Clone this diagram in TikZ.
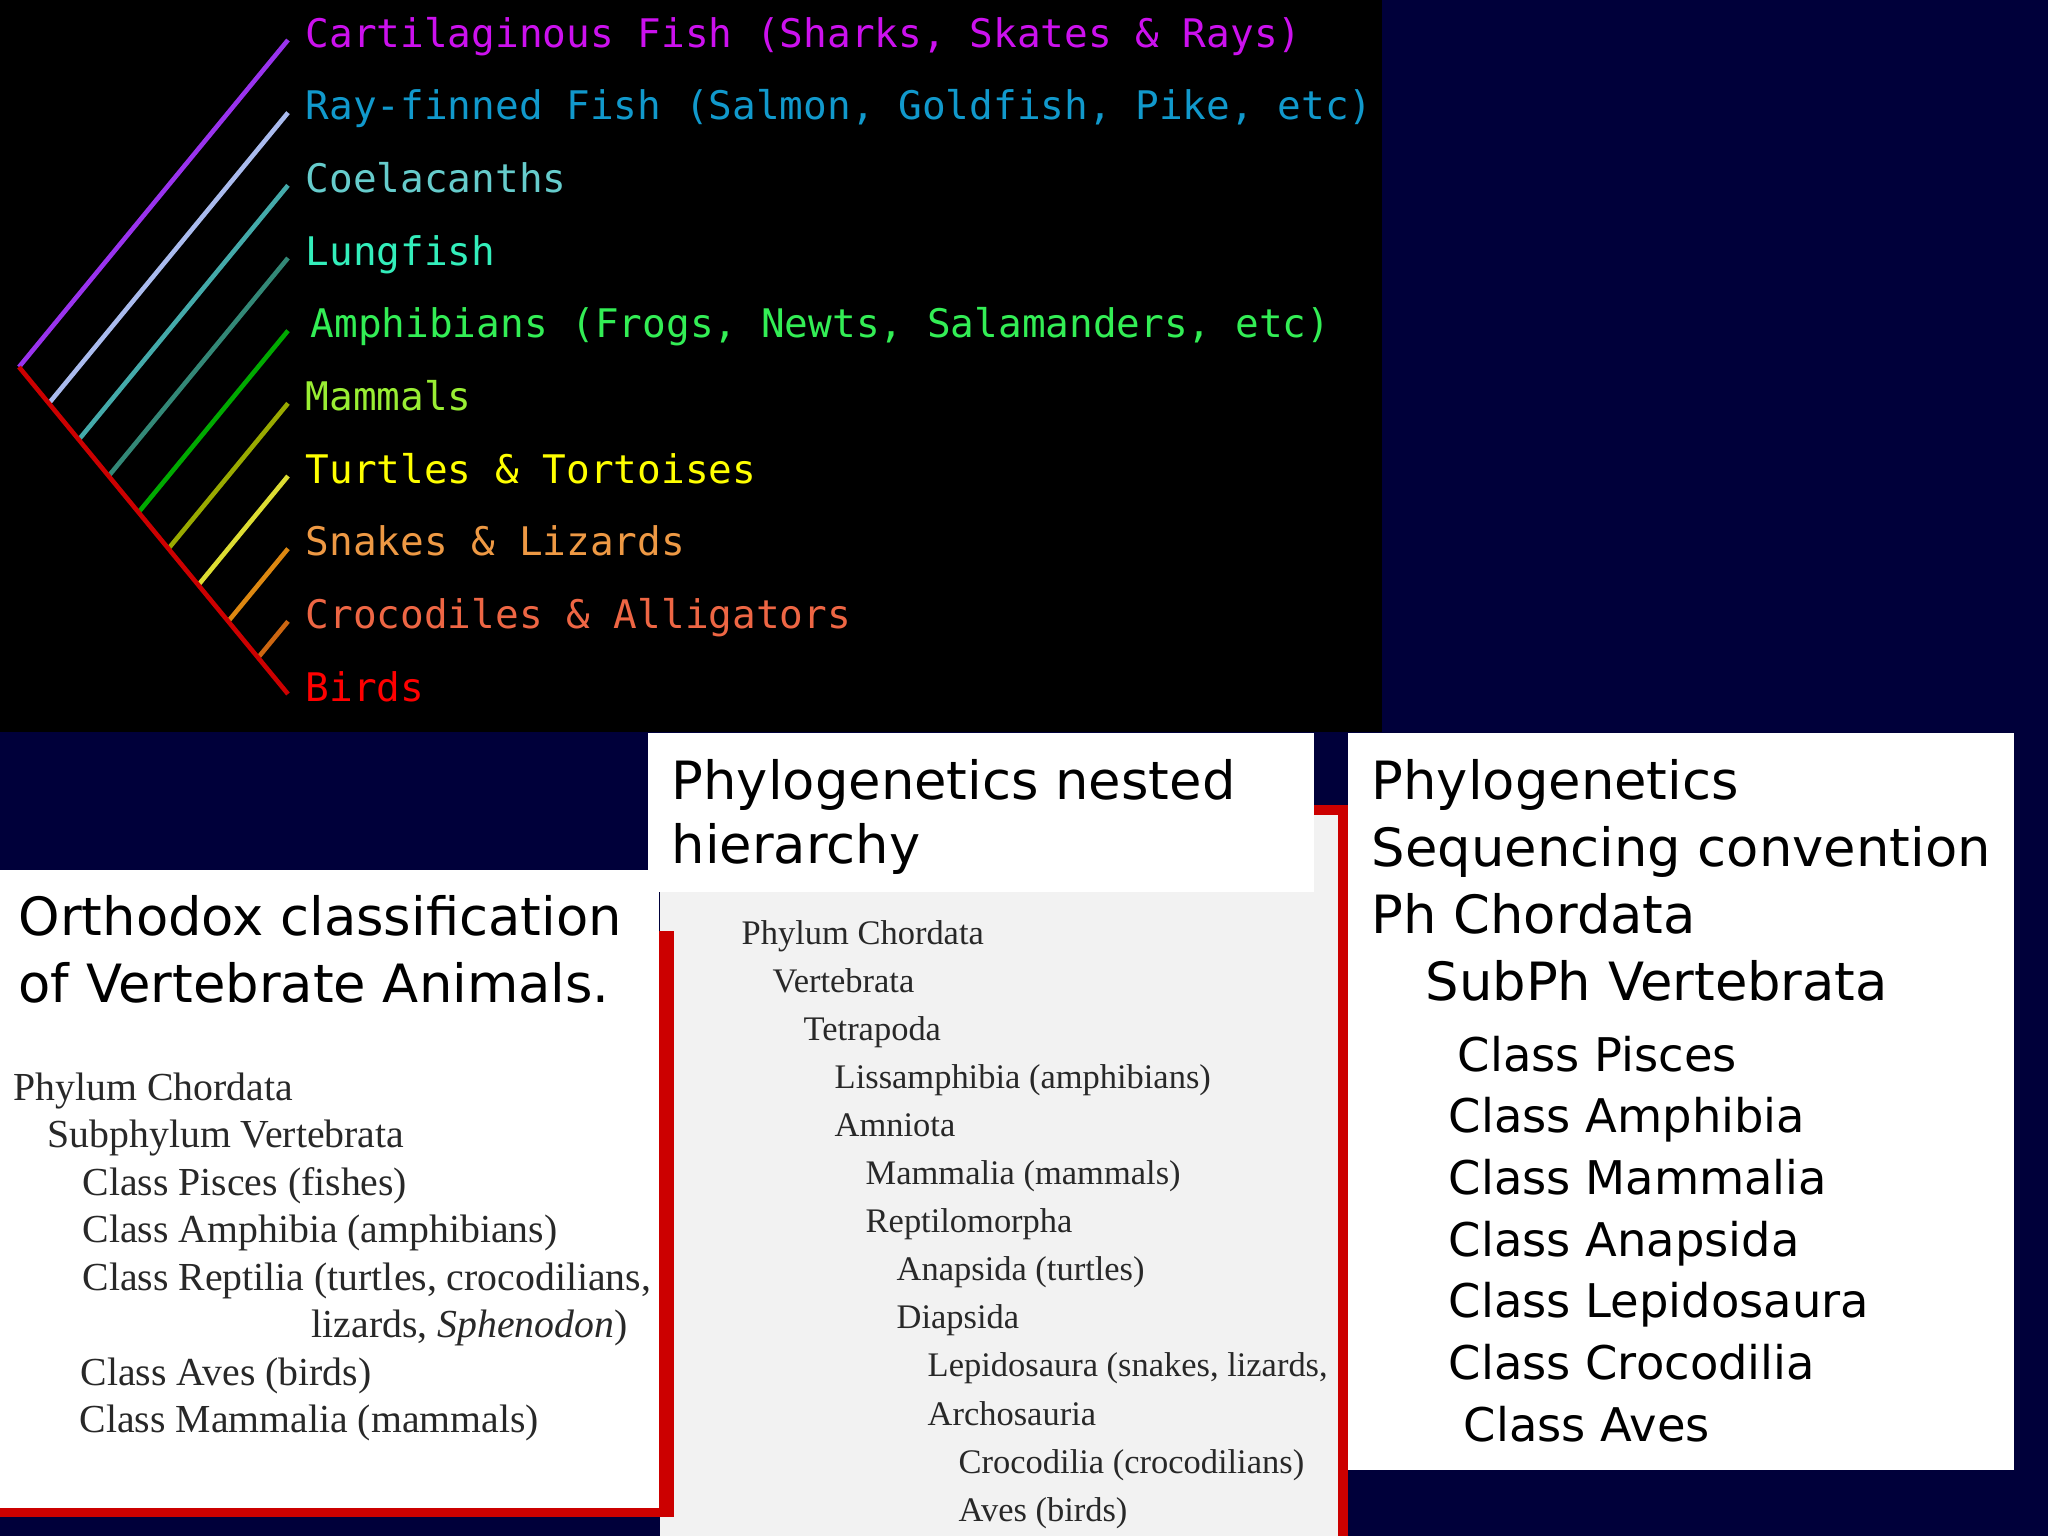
\documentclass[tikz,border=0pt]{standalone}
\usepackage{fontspec}
\newfontfamily\pixfont{DejaVu Sans Mono}
\newfontfamily\slidefont{DejaVu Sans}
\newfontfamily\scanfont{Liberation Serif}
\definecolor{navy}{RGB}{0,0,58}
\definecolor{framered}{RGB}{204,0,0}
\definecolor{scangray}{RGB}{242,242,242}
\definecolor{inkgray}{RGB}{40,40,40}
\definecolor{lab0}{RGB}{204,17,238}
\definecolor{lab1}{RGB}{17,153,204}
\definecolor{lab2}{RGB}{102,204,204}
\definecolor{lab3}{RGB}{51,238,187}
\definecolor{lab4}{RGB}{51,238,85}
\definecolor{lab5}{RGB}{153,238,51}
\definecolor{lab6}{RGB}{255,255,0}
\definecolor{lab7}{RGB}{238,153,68}
\definecolor{lab8}{RGB}{238,102,68}
\definecolor{lab9}{RGB}{255,0,0}
\definecolor{br0}{RGB}{153,51,238}
\definecolor{br1}{RGB}{170,187,238}
\definecolor{br2}{RGB}{68,170,170}
\definecolor{br3}{RGB}{51,136,119}
\definecolor{br4}{RGB}{0,170,0}
\definecolor{br5}{RGB}{153,170,0}
\definecolor{br6}{RGB}{221,221,51}
\definecolor{br7}{RGB}{221,136,17}
\definecolor{br8}{RGB}{204,102,17}
\begin{document}
\begin{tikzpicture}[x=0.01cm,y=-0.01cm]
      \tikzstyle{clade label}=[anchor=base west,inner sep=0,font=\pixfont\fontsize{11.2}{12}\selectfont]
      \tikzstyle{branch}=[line width=1.3pt]
      \tikzstyle{slide head}=[anchor=base west,inner sep=0,font=\slidefont\fontsize{15}{18}\selectfont]
      \tikzstyle{slide line}=[anchor=base west,inner sep=0,font=\slidefont\fontsize{13.2}{16}\selectfont]
      \tikzstyle{book line}=[anchor=base west,inner sep=0,text=inkgray,font=\scanfont\fontsize{11.3}{13}\selectfont]
      \tikzstyle{book small}=[anchor=base west,inner sep=0,text=inkgray,font=\scanfont\fontsize{9.8}{12}\selectfont]

      \useasboundingbox (0,0) rectangle (2048,1536);
      \fill[navy] (0,0) rectangle (2048,1536);
      \fill[black] (0,0) rectangle (1382,732);

      % cladogram
      \coordinate (r) at (19,367);
      \foreach \i in {0,...,9}
          \coordinate (t\i) at (288,{40+72.67*\i});
      \foreach \i in {1,...,8}
          \coordinate (j\i) at ({19+29.89*\i},{367+36.33*\i});
      \draw[branch,br0] (r) -- (t0);
      \foreach \i in {1,...,8}
          \draw[branch,color=br\i] (j\i) -- (t\i);
      \draw[branch,framered] (r) -- (t9);

      \foreach \i/\x/\txt in {0/305/{Cartilaginous Fish (Sharks, Skates \& Rays)},
          1/305/{Ray-finned Fish (Salmon, Goldfish, Pike, etc)},
          2/305/{Coelacanths}, 3/305/{Lungfish},
          4/310/{Amphibians (Frogs, Newts, Salamanders, etc)},
          5/305/{Mammals}, 6/305/{Turtles \& Tortoises},
          7/305/{Snakes \& Lizards}, 8/305/{Crocodiles \& Alligators},
          9/305/{Birds}}
          \node[clade label,text=lab\i] (c\i) at (\x,{47+72.67*\i}) {\txt};

      % panels
      \fill[framered] (660,805) rectangle (1348,1536);
      \fill[scangray] (660,815) rectangle (1338,1536);
      \fill[white] (648,733) rectangle (1314,892);
      \fill[framered] (0,931) rectangle (674,1517);
      \fill[white] (0,870) rectangle (659,1508);
      \fill[white] (1348,733) rectangle (2014,1470);

      \node[slide head] (otitle1) at (18,935) {Orthodox classification};
      \node[slide head] (otitle2) at (18,1002) {of Vertebrate Animals.};
      \foreach \x/\txt [count=\k from 0] in {13/{Phylum Chordata},
          47/{Subphylum Vertebrata}, 82/{Class Pisces (fishes)},
          82/{Class Amphibia (amphibians)},
          82/{Class Reptilia (turtles, crocodilians,},
          311/{lizards, \textit{Sphenodon})},
          80/{Class Aves (birds)}, 79/{Class Mammalia (mammals)}}
          \node[book line] (o\k) at (\x,{1100+47.5*\k}) {\txt};

      \node[slide head] (ntitle1) at (671,799) {Phylogenetics nested};
      \node[slide head] (ntitle2) at (671,863) {hierarchy};
      \foreach \x/\txt [count=\k from 0] in {741/{Phylum Chordata},
          772/{Vertebrata}, 803/{Tetrapoda},
          834/{Lissamphibia (amphibians)}, 834/{Amniota},
          865/{Mammalia (mammals)}, 865/{Reptilomorpha},
          896/{Anapsida (turtles)}, 896/{Diapsida},
          927/{Lepidosaura (snakes, lizards,}, 927/{Archosauria},
          958/{Crocodilia (crocodilians)}, 958/{Aves (birds)}}
          \node[book small] (n\k) at (\x,{944+48.1*\k}) {\txt};

      \foreach \x/\txt [count=\k from 0] in {1371/{Phylogenetics},
          1371/{Sequencing convention}, 1371/{Ph Chordata},
          1425/{SubPh Vertebrata}}
          \node[slide head] (h\k) at (\x,{799+67.3*\k}) {\txt};
      \foreach \x/\txt [count=\k from 0] in {1457/{Class Pisces},
          1448/{Class Amphibia}, 1448/{Class Mammalia},
          1448/{Class Anapsida}, 1448/{Class Lepidosaura},
          1448/{Class Crocodilia}, 1463/{Class Aves}}
          \node[slide line] (s\k) at (\x,{1071+61.7*\k}) {\txt};
    \end{tikzpicture}
\end{document}
